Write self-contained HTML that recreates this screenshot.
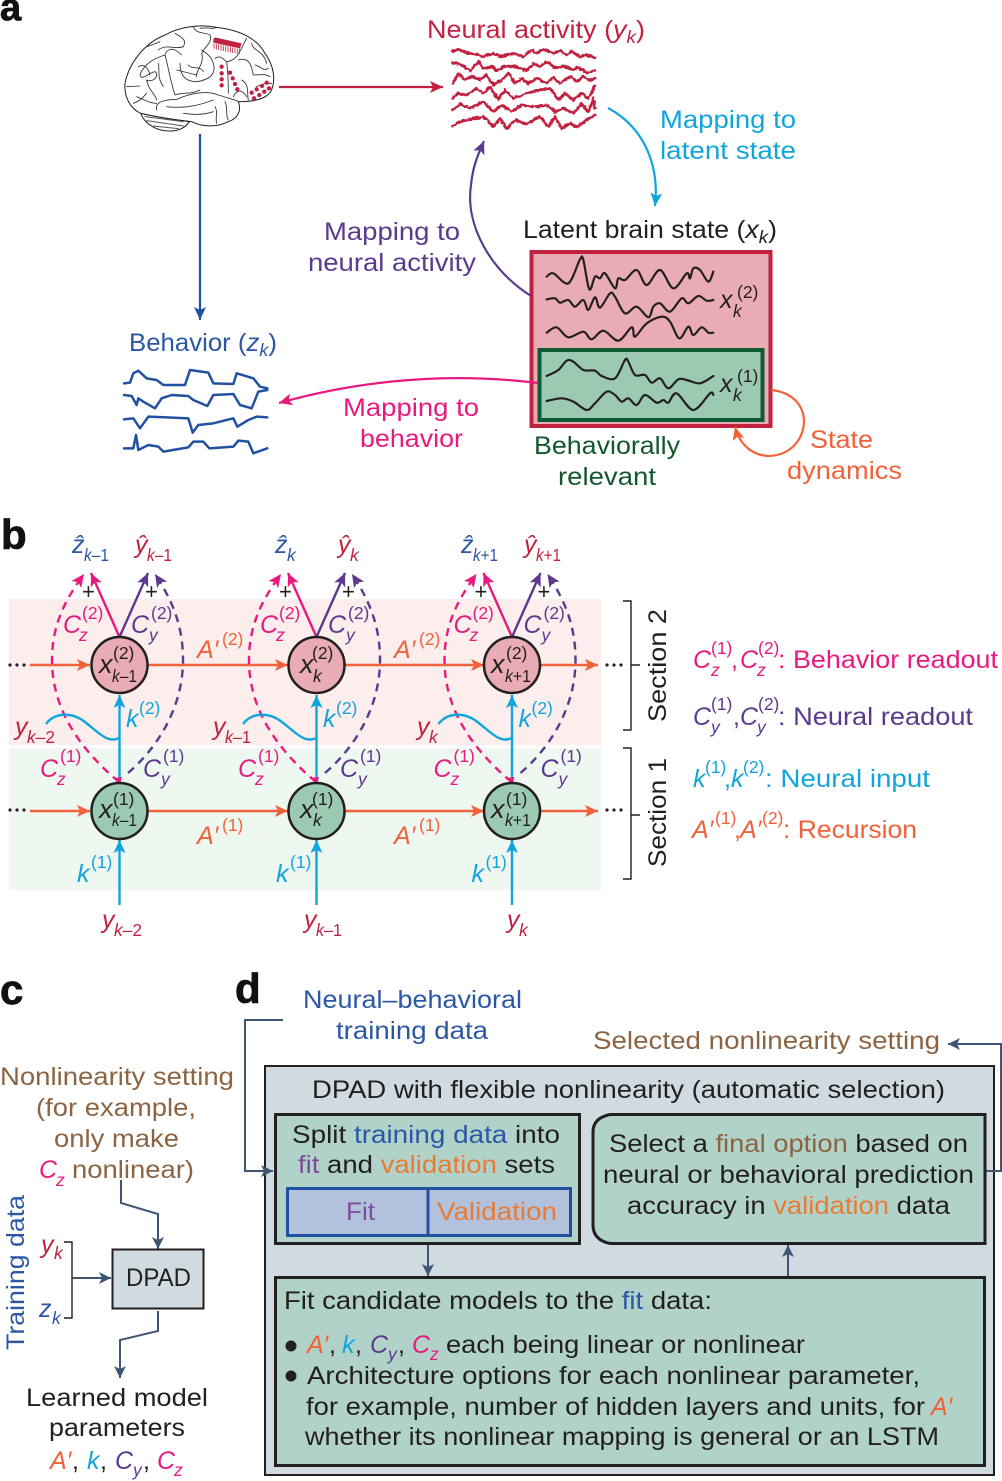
<!DOCTYPE html>
<html><head><meta charset="utf-8"><style>
html,body{margin:0;padding:0;background:#fff}
svg{display:block}
text{font-family:"Liberation Sans",sans-serif;font-size:25px;fill:#231f20}
.i{font-style:italic}
.s{font-size:17.5px}
.si{font-size:17.5px;font-style:italic}
.sr{font-style:normal}
.lab{font-weight:bold;font-size:42px;fill:#111;stroke:#111;stroke-width:.8px}
.red{fill:#c0223f}.blue{fill:#2b57a5}.cy{fill:#12a5dc}.pu{fill:#5b3a8e}.pk{fill:#e8197f}.or{fill:#f1623a}.gr{fill:#13572f}.br{fill:#8c6443}.vo{fill:#e97b35}.fp{fill:#7f4d9e}
.l{fill:none;stroke-linejoin:round;stroke-linecap:round}
.pl{font-size:22px}
</style></head><body>
<svg xmlns="http://www.w3.org/2000/svg" width="1002" height="1481" viewBox="0 0 1002 1481">
<defs>
<filter id="rough" x="-5%" y="-10%" width="110%" height="120%"><feTurbulence type="fractalNoise" baseFrequency="0.09" numOctaves="2" seed="4"/><feDisplacementMap in="SourceGraphic" scale="10" xChannelSelector="R" yChannelSelector="G"/></filter>
<marker id="mr" markerUnits="userSpaceOnUse" markerWidth="16" markerHeight="14" refX="13" refY="6" orient="auto" overflow="visible"><path d="M0 0L13 6L0 12L3 6z" fill="#c0223f"/></marker>
<marker id="mb" markerUnits="userSpaceOnUse" markerWidth="16" markerHeight="14" refX="13" refY="6" orient="auto" overflow="visible"><path d="M0 0L13 6L0 12L3 6z" fill="#2151a0"/></marker>
<marker id="mc" markerUnits="userSpaceOnUse" markerWidth="16" markerHeight="14" refX="13" refY="6" orient="auto" overflow="visible"><path d="M0 0L13 6L0 12L3 6z" fill="#12a5dc"/></marker>
<marker id="mp" markerUnits="userSpaceOnUse" markerWidth="16" markerHeight="14" refX="13" refY="6" orient="auto" overflow="visible"><path d="M0 0L13 6L0 12L3 6z" fill="#5b3a8e"/></marker>
<marker id="mk" markerUnits="userSpaceOnUse" markerWidth="16" markerHeight="14" refX="13" refY="6" orient="auto" overflow="visible"><path d="M0 0L13 6L0 12L3 6z" fill="#e8197f"/></marker>
<marker id="mo" markerUnits="userSpaceOnUse" markerWidth="16" markerHeight="14" refX="13" refY="6" orient="auto" overflow="visible"><path d="M0 0L13 6L0 12L3 6z" fill="#f1623a"/></marker>
<marker id="ms" markerUnits="userSpaceOnUse" markerWidth="16" markerHeight="14" refX="12" refY="6" orient="auto" overflow="visible"><path d="M0 0L12 6L0 12L3 6z" fill="#3f5673"/></marker>
</defs>

<!-- panel a -->
<text class="lab" x="0" y="20" style="font-size:38px">a</text>
<g transform="translate(100 0) scale(.33333)">
<path d="M122 340C90 325 72 290 75 250C85 195 130 130 195 105C240 80 300 72 350 82C420 90 470 115 495 160C520 195 530 240 512 275C495 300 455 305 415 305C425 330 415 355 385 365C350 382 310 382 275 365C215 358 165 350 122 340Z" fill="#fff" stroke="#231f20" stroke-width="3"/>
<path d="M122 340C135 375 175 395 215 393C240 392 258 380 268 365C215 358 165 350 122 340Z" fill="#fff" stroke="#231f20" stroke-width="3"/>
<path class="l" stroke="#555" stroke-width="3" d="M135 350L250 365M140 362L250 378M160 378L235 386"/>
<path class="l" stroke="#333" stroke-width="2.6" d="M170 330C165 310 180 300 230 298C270 280 320 270 355 285C385 295 410 300 415 305M200 320C240 325 290 320 340 300M345 320C355 335 345 355 350 370M375 305C385 325 375 345 385 360
M240 190C240 225 255 245 290 245C325 240 350 225 340 190C335 170 320 160 305 150M245 165C215 135 200 150 195 165C205 200 210 240 225 285M195 165C160 175 130 195 120 225C125 245 150 215 165 215C180 225 160 250 140 240C145 270 165 280 170 300M80 260L120 258M100 310C120 305 130 290 140 280
M280 80C290 105 315 95 330 105C340 125 310 145 305 160C315 190 285 215 290 230M350 82C330 90 340 80 300 85M225 100C250 115 260 120 250 140C225 150 200 130 175 150M440 115C420 150 415 180 380 185C385 225 385 250 385 280M415 180C450 170 455 200 460 225C480 225 495 220 510 230M455 130C460 155 490 150 500 190M425 240C450 255 440 280 445 300M230 210L290 225M140 140C170 130 170 130 180 125
M115 200C135 190 145 205 150 225M175 190C180 215 170 230 190 260M265 195C275 210 300 195 310 215M225 285C250 275 270 285 300 270M110 290C135 300 150 310 170 310M345 175C360 165 370 175 378 185M400 290C410 270 425 265 440 290M470 260C490 250 500 250 515 250M465 195C485 200 490 215 505 205M250 340C280 345 310 345 340 335"/>
<g fill="#c0223f"><path d="M340 118L345 112L425 130L420 145L340 128Z"/>
<path stroke="#c0223f" stroke-width="2.5" fill="none" d="M342 130V146M349 132V148M356 133V150M363 134V152M370 136V153M377 137V155M384 139V156M391 140V158M398 142V159M405 143V160M412 145V161M418 146V162"/>
<circle cx="365" cy="200" r="6.5"/><circle cx="365" cy="220" r="6.5"/><circle cx="365" cy="238" r="6.5"/><circle cx="365" cy="256" r="6.5"/>
<circle cx="390" cy="218" r="6.5"/><circle cx="398" cy="235" r="6.5"/><circle cx="405" cy="252" r="6.5"/><circle cx="412" cy="268" r="6.5"/>
<circle cx="455" cy="278" r="6.5"/><circle cx="470" cy="268" r="6.5"/><circle cx="486" cy="258" r="6.5"/><circle cx="500" cy="248" r="6.5"/><circle cx="462" cy="295" r="6.5"/><circle cx="478" cy="285" r="6.5"/><circle cx="493" cy="275" r="6.5"/><circle cx="507" cy="265" r="6.5"/></g>
<g class="l" stroke="#c0223f" stroke-width="8.5" filter="url(#rough)">
<polyline points="1058,155 1075,148 1100,158 1130,163 1150,170 1180,160 1200,170 1240,160 1270,170 1295,150 1310,160 1330,148 1360,160 1380,152 1400,165 1415,155 1440,170 1460,165 1485,172"/>
<polyline points="1058,188 1080,192 1110,212 1135,185 1150,205 1175,200 1190,212 1215,198 1250,200 1280,212 1300,190 1320,200 1340,186 1370,205 1390,198 1420,210 1435,202 1460,218 1485,212"/>
<polyline points="1058,250 1075,222 1095,238 1120,230 1140,240 1158,225 1180,255 1205,240 1225,218 1245,250 1265,235 1285,250 1310,235 1340,250 1360,232 1380,250 1410,230 1430,245 1450,230 1470,242 1485,235"/>
<polyline points="1058,295 1075,280 1100,285 1130,265 1150,280 1170,262 1195,298 1215,270 1240,295 1280,280 1320,270 1350,265 1375,300 1395,280 1420,300 1445,280 1465,295 1485,258"/>
<polyline points="1058,330 1080,312 1110,325 1150,305 1180,335 1205,315 1235,335 1265,315 1310,320 1340,315 1365,335 1390,325 1420,340 1445,312 1465,335 1480,295 1485,325"/>
<polyline points="1058,378 1080,365 1110,358 1150,350 1180,380 1200,355 1220,385 1245,360 1280,372 1320,350 1345,380 1365,350 1385,385 1410,370 1430,382 1460,360 1485,345"/>
</g></g>
<path d="M279 87H443" stroke="#c0223f" stroke-width="2.2" fill="none" marker-end="url(#mr)"/>
<path d="M200 134V320" stroke="#2151a0" stroke-width="2.2" fill="none" marker-end="url(#mb)"/>
<text class="red" x="427" y="38" textLength="218" lengthAdjust="spacingAndGlyphs">Neural activity (<tspan class="i">y</tspan><tspan class="si" dy="5">k</tspan><tspan dy="-5">)</tspan></text>
<text class="cy" x="660" y="128" textLength="136" lengthAdjust="spacingAndGlyphs">Mapping to</text>
<text class="cy" x="660" y="159" textLength="136" lengthAdjust="spacingAndGlyphs">latent state</text>
<path d="M608 108C640 125 660 160 655 206" stroke="#12a5dc" stroke-width="2.2" fill="none" marker-end="url(#mc)"/>
<text x="523" y="238" textLength="254" lengthAdjust="spacingAndGlyphs">Latent brain state (<tspan class="i">x</tspan><tspan class="si" dy="5">k</tspan><tspan dy="-5">)</tspan></text>
<rect x="531.5" y="252" width="239" height="174" fill="#e9abb4" stroke="#c0223f" stroke-width="4"/>
<rect x="539.5" y="350" width="223" height="70" fill="#9cc9b1" stroke="#0f5a33" stroke-width="4"/>
<g transform="translate(500 210) scale(.33333)" class="l" stroke="#231f20" stroke-width="6.5">
<polyline class="sm" points="140,200 160,190 205,220 240,148 250,150 268,238 285,200 300,205 315,190 345,235 355,205 375,210 410,180 440,225 480,180 520,235 560,190 570,205 580,175 600,180 625,215 640,185"/>
<polyline class="sm" points="140,268 165,265 180,278 205,270 225,290 250,270 265,300 285,262 300,293 330,250 345,260 375,310 410,290 445,322 460,290 480,280 510,305 545,265 565,280 595,258 620,272 640,270"/>
<polyline class="sm" points="140,368 170,352 205,382 250,365 275,388 310,362 355,392 395,352 405,380 440,340 485,320 510,335 538,385 565,350 580,375 605,352 625,368 640,368"/>
<polyline class="sm" points="140,498 175,480 200,452 220,455 250,480 285,482 305,498 345,505 375,450 385,455 405,495 435,495 455,518 480,505 505,535 535,508 560,510 600,520 640,498"/>
<polyline class="sm" points="140,573 185,565 220,575 260,600 285,580 320,545 345,555 365,575 385,565 410,585 435,555 470,578 490,570 505,578 530,550 580,600 630,550 640,555"/>
</g>
<text class="i" x="720" y="308">x</text><text class="s" x="737" y="298">(2)</text><text class="si" x="733" y="317">k</text>
<text class="i" x="720" y="392">x</text><text class="s" x="737" y="382">(1)</text><text class="si" x="733" y="401">k</text>
<path d="M531 296C490 270 465 225 471 185C473 165 478 155 484 141" stroke="#5b3a8e" stroke-width="2.2" fill="none" marker-end="url(#mp)"/>
<text class="pu" x="324" y="240" textLength="136" lengthAdjust="spacingAndGlyphs">Mapping to</text>
<text class="pu" x="308" y="271" textLength="168" lengthAdjust="spacingAndGlyphs">neural activity</text>
<text class="blue" x="129" y="351" textLength="148" lengthAdjust="spacingAndGlyphs">Behavior (<tspan class="i">z</tspan><tspan class="si" dy="5">k</tspan><tspan dy="-5">)</tspan></text>
<g transform="translate(120 320) scale(.33333)" class="l" stroke="#2151a0" stroke-width="7.5">
<polyline points="12,190 30,188 40,160 55,152 80,175 110,180 130,195 195,195 210,150 265,158 280,190 340,192 350,160 400,175 420,200 442,205"/>
<polyline points="12,225 35,228 50,255 55,235 70,245 105,265 125,235 155,225 205,228 220,240 262,258 280,225 340,222 360,255 395,265 415,215 442,210"/>
<polyline points="12,298 40,295 60,325 85,290 140,292 205,295 218,338 235,315 280,310 340,295 352,320 385,300 410,290 442,292"/>
<polyline points="12,385 40,385 48,345 55,390 85,375 115,380 130,395 205,382 220,365 250,365 268,385 340,380 355,362 385,365 400,400 442,385"/>
</g>
<path d="M538 383C450 372 360 380 279 403" stroke="#e8197f" stroke-width="2.2" fill="none" marker-end="url(#mk)"/>
<text class="pk" x="343" y="416" textLength="136" lengthAdjust="spacingAndGlyphs">Mapping to</text>
<text class="pk" x="360" y="447" textLength="103" lengthAdjust="spacingAndGlyphs">behavior</text>
<text class="gr" x="534" y="454" textLength="146" lengthAdjust="spacingAndGlyphs">Behaviorally</text>
<text class="gr" x="558" y="485" textLength="98" lengthAdjust="spacingAndGlyphs">relevant</text>
<path d="M771 390C792 392 804 405 804 422C803 442 788 456 768 456C752 455 740 445 735 427" stroke="#f1623a" stroke-width="2.2" fill="none" marker-end="url(#mo)"/>
<text class="or" x="810" y="448" textLength="63" lengthAdjust="spacingAndGlyphs">State</text>
<text class="or" x="787" y="479" textLength="115" lengthAdjust="spacingAndGlyphs">dynamics</text>

<!-- panel b -->
<text class="lab" x="1" y="549">b</text>
<rect x="9" y="599" width="592" height="146" fill="#fbeeec"/>
<rect x="9" y="748" width="592" height="142" fill="#eff7f1"/>
<g stroke="#f1623a" stroke-width="2.4" fill="none">
<path d="M30 665H90" marker-end="url(#mo)"/><path d="M148 665H288" marker-end="url(#mo)"/><path d="M345 665H484" marker-end="url(#mo)"/><path d="M541 665H598" marker-end="url(#mo)"/>
<path d="M30 811H90" marker-end="url(#mo)"/><path d="M148 811H288" marker-end="url(#mo)"/><path d="M345 811H484" marker-end="url(#mo)"/><path d="M541 811H598" marker-end="url(#mo)"/>
</g>
<g fill="#231f20"><circle cx="10" cy="665" r="1.6"/><circle cx="17" cy="665" r="1.6"/><circle cx="24" cy="665" r="1.6"/><circle cx="10" cy="810" r="1.6"/><circle cx="17" cy="810" r="1.6"/><circle cx="24" cy="810" r="1.6"/>
<circle cx="607" cy="665" r="1.6"/><circle cx="614" cy="665" r="1.6"/><circle cx="621" cy="665" r="1.6"/><circle cx="607" cy="810" r="1.6"/><circle cx="614" cy="810" r="1.6"/><circle cx="621" cy="810" r="1.6"/></g>

<g>
<path d="M119 782C75 745 52 705 52 660C52 625 65 600 84 574" stroke="#e8197f" stroke-width="2.4" fill="none" stroke-dasharray="8 6" marker-end="url(#mk)"/>
<path d="M128 773C155 750 183 710 183 660C183 625 172 600 155 574" stroke="#5b3a8e" stroke-width="2.4" fill="none" stroke-dasharray="8 6" marker-end="url(#mp)"/>
<path d="M119.5 637L91 573" stroke="#e8197f" stroke-width="2.4" fill="none" marker-end="url(#mk)"/>
<path d="M119.5 637L148 573" stroke="#5b3a8e" stroke-width="2.4" fill="none" marker-end="url(#mp)"/>
<path d="M119.5 783V695" stroke="#12a5dc" stroke-width="2.4" fill="none" marker-end="url(#mc)"/>
<path d="M119.5 905V840" stroke="#12a5dc" stroke-width="2.4" fill="none" marker-end="url(#mc)"/>
<path d="M46 724C55 712 72 712 85 722C98 732 108 744 119 738" stroke="#12a5dc" stroke-width="2.4" fill="none"/>
<path d="M114 778L120 784L122 777Z" fill="#e8197f"/>
<circle cx="119.5" cy="665" r="28" fill="#e9abb4" stroke="#231f20" stroke-width="2.5"/>
<circle cx="119.5" cy="811" r="28" fill="#9cc9b1" stroke="#231f20" stroke-width="2.5"/>
</g>
<g transform="translate(197 0)">
<path d="M119 782C75 745 52 705 52 660C52 625 65 600 84 574" stroke="#e8197f" stroke-width="2.4" fill="none" stroke-dasharray="8 6" marker-end="url(#mk)"/>
<path d="M128 773C155 750 183 710 183 660C183 625 172 600 155 574" stroke="#5b3a8e" stroke-width="2.4" fill="none" stroke-dasharray="8 6" marker-end="url(#mp)"/>
<path d="M119.5 637L91 573" stroke="#e8197f" stroke-width="2.4" fill="none" marker-end="url(#mk)"/>
<path d="M119.5 637L148 573" stroke="#5b3a8e" stroke-width="2.4" fill="none" marker-end="url(#mp)"/>
<path d="M119.5 783V695" stroke="#12a5dc" stroke-width="2.4" fill="none" marker-end="url(#mc)"/>
<path d="M119.5 905V840" stroke="#12a5dc" stroke-width="2.4" fill="none" marker-end="url(#mc)"/>
<path d="M46 724C55 712 72 712 85 722C98 732 108 744 119 738" stroke="#12a5dc" stroke-width="2.4" fill="none"/>
<path d="M114 778L120 784L122 777Z" fill="#e8197f"/>
<circle cx="119.5" cy="665" r="28" fill="#e9abb4" stroke="#231f20" stroke-width="2.5"/>
<circle cx="119.5" cy="811" r="28" fill="#9cc9b1" stroke="#231f20" stroke-width="2.5"/>
</g>
<g transform="translate(392.5 0)">
<path d="M119 782C75 745 52 705 52 660C52 625 65 600 84 574" stroke="#e8197f" stroke-width="2.4" fill="none" stroke-dasharray="8 6" marker-end="url(#mk)"/>
<path d="M128 773C155 750 183 710 183 660C183 625 172 600 155 574" stroke="#5b3a8e" stroke-width="2.4" fill="none" stroke-dasharray="8 6" marker-end="url(#mp)"/>
<path d="M119.5 637L91 573" stroke="#e8197f" stroke-width="2.4" fill="none" marker-end="url(#mk)"/>
<path d="M119.5 637L148 573" stroke="#5b3a8e" stroke-width="2.4" fill="none" marker-end="url(#mp)"/>
<path d="M119.5 783V695" stroke="#12a5dc" stroke-width="2.4" fill="none" marker-end="url(#mc)"/>
<path d="M119.5 905V840" stroke="#12a5dc" stroke-width="2.4" fill="none" marker-end="url(#mc)"/>
<path d="M46 724C55 712 72 712 85 722C98 732 108 744 119 738" stroke="#12a5dc" stroke-width="2.4" fill="none"/>
<path d="M114 778L120 784L122 777Z" fill="#e8197f"/>
<circle cx="119.5" cy="665" r="28" fill="#e9abb4" stroke="#231f20" stroke-width="2.5"/>
<circle cx="119.5" cy="811" r="28" fill="#9cc9b1" stroke="#231f20" stroke-width="2.5"/>
</g>

<!-- col labels -->
<text class="blue i" x="72" y="553">ẑ</text><text class="si blue" x="84" y="561" textLength="25" lengthAdjust="spacingAndGlyphs">k<tspan class="sr">–1</tspan></text>
<text class="red i" x="135" y="553">ŷ</text><text class="si red" x="147" y="561" textLength="25" lengthAdjust="spacingAndGlyphs">k<tspan class="sr">–1</tspan></text>
<text class="blue i" x="275" y="553">ẑ</text><text class="si blue" x="287" y="561">k</text>
<text class="red i" x="338" y="553">ŷ</text><text class="si red" x="350" y="561">k</text>
<text class="blue i" x="461" y="553">ẑ</text><text class="si blue" x="473" y="561" textLength="25" lengthAdjust="spacingAndGlyphs">k<tspan class="sr">+1</tspan></text>
<text class="red i" x="524" y="553">ŷ</text><text class="si red" x="536" y="561" textLength="25" lengthAdjust="spacingAndGlyphs">k<tspan class="sr">+1</tspan></text>

<g>
<text class="pl" x="82" y="599">+</text><text class="pl" x="145" y="599">+</text>
<text class="i pk" x="63" y="633">C</text><text class="s pk" x="82" y="619">(2)</text><text class="si pk" x="79" y="641">z</text>
<text class="i pu" x="131" y="633">C</text><text class="s pu" x="151" y="619">(2)</text><text class="si pu" x="149" y="641">y</text>
<text class="i or" x="197" y="658">A′</text><text class="s or" x="222" y="645">(2)</text>
<text class="i cy" x="126" y="727">k</text><text class="s cy" x="139" y="714">(2)</text>
<text class="i pk" x="40" y="777">C</text><text class="s pk" x="60" y="762">(1)</text><text class="si pk" x="57" y="785">z</text>
<text class="i pu" x="143" y="777">C</text><text class="s pu" x="163" y="762">(1)</text><text class="si pu" x="161" y="785">y</text>
<text class="i or" x="197" y="844">A′</text><text class="s or" x="222" y="831">(1)</text>
<text class="i cy" x="77" y="882">k</text><text class="s cy" x="91" y="868">(1)</text>
</g>
<g transform="translate(197 0)">
<text class="pl" x="82" y="599">+</text><text class="pl" x="145" y="599">+</text>
<text class="i pk" x="63" y="633">C</text><text class="s pk" x="82" y="619">(2)</text><text class="si pk" x="79" y="641">z</text>
<text class="i pu" x="131" y="633">C</text><text class="s pu" x="151" y="619">(2)</text><text class="si pu" x="149" y="641">y</text>
<text class="i or" x="197" y="658">A′</text><text class="s or" x="222" y="645">(2)</text>
<text class="i cy" x="126" y="727">k</text><text class="s cy" x="139" y="714">(2)</text>
<text class="i pk" x="41" y="777">C</text><text class="s pk" x="61" y="762">(1)</text><text class="si pk" x="58" y="785">z</text>
<text class="i pu" x="143" y="777">C</text><text class="s pu" x="163" y="762">(1)</text><text class="si pu" x="161" y="785">y</text>
<text class="i or" x="197" y="844">A′</text><text class="s or" x="222" y="831">(1)</text>
<text class="i cy" x="79" y="882">k</text><text class="s cy" x="93" y="868">(1)</text>
</g>
<g transform="translate(392.5 0)">
<text class="pl" x="82" y="599">+</text><text class="pl" x="145" y="599">+</text>
<text class="i pk" x="61" y="633">C</text><text class="s pk" x="80" y="619">(2)</text><text class="si pk" x="77" y="641">z</text>
<text class="i pu" x="131" y="633">C</text><text class="s pu" x="151" y="619">(2)</text><text class="si pu" x="149" y="641">y</text>
<text class="i cy" x="126" y="727">k</text><text class="s cy" x="139" y="714">(2)</text>
<text class="i pk" x="41" y="777">C</text><text class="s pk" x="61" y="762">(1)</text><text class="si pk" x="58" y="785">z</text>
<text class="i pu" x="148" y="777">C</text><text class="s pu" x="168" y="762">(1)</text><text class="si pu" x="166" y="785">y</text>
<text class="i cy" x="79" y="882">k</text><text class="s cy" x="93" y="868">(1)</text>
</g>
<text class="i red" x="15" y="735">y</text><text class="si red" x="27" y="743" textLength="28" lengthAdjust="spacingAndGlyphs">k<tspan class="sr">–2</tspan></text>
<text class="i red" x="213" y="735">y</text><text class="si red" x="225" y="743" textLength="26" lengthAdjust="spacingAndGlyphs">k<tspan class="sr">–1</tspan></text>
<text class="i red" x="417" y="735">y</text><text class="si red" x="429" y="743">k</text>
<text class="i red" x="102" y="928">y</text><text class="si red" x="114" y="936" textLength="28" lengthAdjust="spacingAndGlyphs">k<tspan class="sr">–2</tspan></text>
<text class="i red" x="304" y="928">y</text><text class="si red" x="316" y="936" textLength="26" lengthAdjust="spacingAndGlyphs">k<tspan class="sr">–1</tspan></text>
<text class="i red" x="507" y="928">y</text><text class="si red" x="519" y="936">k</text>

<text class="i" x="99" y="673" style="font-size:27px">x</text><text class="s" x="113" y="659">(2)</text><text class="si" x="112" y="682" textLength="25" lengthAdjust="spacingAndGlyphs">k<tspan class="sr">–1</tspan></text>
<text class="i" x="300" y="673" style="font-size:27px">x</text><text class="s" x="312" y="659">(2)</text><text class="si" x="313" y="682">k</text>
<text class="i" x="491" y="673" style="font-size:27px">x</text><text class="s" x="506" y="659">(2)</text><text class="si" x="505" y="682" textLength="26" lengthAdjust="spacingAndGlyphs">k<tspan class="sr">+1</tspan></text>
<text class="i" x="99" y="818" style="font-size:27px">x</text><text class="s" x="113" y="805">(1)</text><text class="si" x="112" y="826" textLength="25" lengthAdjust="spacingAndGlyphs">k<tspan class="sr">–1</tspan></text>
<text class="i" x="300" y="818" style="font-size:27px">x</text><text class="s" x="312" y="805">(1)</text><text class="si" x="313" y="826">k</text>
<text class="i" x="491" y="818" style="font-size:27px">x</text><text class="s" x="506" y="805">(1)</text><text class="si" x="505" y="826" textLength="26" lengthAdjust="spacingAndGlyphs">k<tspan class="sr">+1</tspan></text>

<path d="M623 601H631V730H623M631 665H640M623 748H631V879H623M631 815H640" stroke="#231f20" stroke-width="1.4" fill="none"/>
<text transform="translate(666 722) rotate(-90)" textLength="113" lengthAdjust="spacingAndGlyphs">Section 2</text>
<text transform="translate(666 867) rotate(-90)" textLength="109" lengthAdjust="spacingAndGlyphs">Section 1</text>

<!-- legend -->
<text class="i pk" x="693" y="668">C</text><text class="s pk" x="711" y="654">(1)</text><text class="si pk" x="711" y="676">z</text><text class="pk" x="731" y="668">,</text>
<text class="i pk" x="740" y="668">C</text><text class="s pk" x="758" y="654">(2)</text><text class="si pk" x="757" y="676">z</text>
<text class="pk" x="778" y="668" textLength="220" lengthAdjust="spacingAndGlyphs">: Behavior readout</text>
<text class="i pu" x="693" y="725">C</text><text class="s pu" x="711" y="710">(1)</text><text class="si pu" x="711" y="733">y</text><text class="pu" x="733" y="725">,</text>
<text class="i pu" x="740" y="725">C</text><text class="s pu" x="758" y="710">(2)</text><text class="si pu" x="757" y="733">y</text>
<text class="pu" x="778" y="725" textLength="195" lengthAdjust="spacingAndGlyphs">: Neural readout</text>
<text class="i cy" x="693" y="787">k</text><text class="s cy" x="705" y="773">(1)</text><text class="cy" x="724" y="787">,</text>
<text class="i cy" x="731" y="787">k</text><text class="s cy" x="743" y="773">(2)</text>
<text class="cy" x="765" y="787" textLength="165" lengthAdjust="spacingAndGlyphs">: Neural input</text>
<text class="i or" x="692" y="838">A′</text><text class="s or" x="715" y="824">(1)</text><text class="or" x="734" y="838">,</text>
<text class="i or" x="740" y="838">A′</text><text class="s or" x="762" y="824">(2)</text>
<text class="or" x="783" y="838" textLength="134" lengthAdjust="spacingAndGlyphs">: Recursion</text>

<!-- panel c -->
<text class="lab" x="0" y="1004">c</text>
<text class="br" x="0" y="1085" textLength="234" lengthAdjust="spacingAndGlyphs">Nonlinearity setting</text>
<text class="br" x="36" y="1116" textLength="160" lengthAdjust="spacingAndGlyphs">(for example,</text>
<text class="br" x="54" y="1147" textLength="125" lengthAdjust="spacingAndGlyphs">only make</text>
<text class="i pk" x="39" y="1178">C</text><text class="si pk" x="56" y="1186">z</text><text class="br" x="72" y="1178" textLength="122" lengthAdjust="spacingAndGlyphs">nonlinear)</text>
<path d="M121 1180V1203L158 1214V1249" stroke="#3f5673" stroke-width="2" fill="none" marker-end="url(#ms)"/>
<rect x="112.500" y="1249.500" width="91" height="59" fill="#cfdbe0" stroke="#231f20" stroke-width="2"/>
<text x="126" y="1286" textLength="65" lengthAdjust="spacingAndGlyphs">DPAD</text>
<text class="blue" transform="translate(24 1350) rotate(-90)" textLength="155" lengthAdjust="spacingAndGlyphs">Training data</text>
<text class="i red" x="41" y="1253">y</text><text class="si red" x="54" y="1259">k</text>
<text class="i blue" x="39" y="1317">z</text><text class="si blue" x="52" y="1324">k</text>
<path d="M64 1242H72V1318H64M72 1278H80" stroke="#231f20" stroke-width="1.4" fill="none"/>
<path d="M79 1278H111" stroke="#3f5673" stroke-width="2" fill="none" marker-end="url(#ms)"/>
<path d="M158 1311V1331L120 1340V1378" stroke="#3f5673" stroke-width="2" fill="none" marker-end="url(#ms)"/>
<text x="26" y="1406" textLength="182" lengthAdjust="spacingAndGlyphs">Learned model</text>
<text x="49" y="1436" textLength="136" lengthAdjust="spacingAndGlyphs">parameters</text>
<text x="50" y="1469"><tspan class="i or">A′</tspan></text><text x="72" y="1469">,</text><text class="i cy" x="87" y="1469">k</text><text x="100" y="1469">,</text><text class="i pu" x="115" y="1469">C</text><text class="si pu" x="133" y="1476">y</text><text x="143" y="1469">,</text><text class="i pk" x="157" y="1469">C</text><text class="si pk" x="174" y="1476">z</text>

<!-- panel d -->
<text class="lab" x="235" y="1003">d</text>
<text class="blue" x="303" y="1008" textLength="219" lengthAdjust="spacingAndGlyphs">Neural–behavioral</text>
<text class="blue" x="336" y="1039" textLength="152" lengthAdjust="spacingAndGlyphs">training data</text>
<rect x="265" y="1066" width="729" height="409" fill="#cfdbe0" stroke="#231f20" stroke-width="2"/>
<path d="M283 1020H245V1171H273" stroke="#3f5673" stroke-width="2" fill="none" marker-end="url(#ms)"/>
<text class="br" x="593" y="1049" textLength="347" lengthAdjust="spacingAndGlyphs">Selected nonlinearity setting</text>
<path d="M985 1171H1001V1044H948" stroke="#3f5673" stroke-width="2" fill="none" marker-end="url(#ms)"/>
<text x="312" y="1098" textLength="633" lengthAdjust="spacingAndGlyphs">DPAD with flexible nonlinearity (automatic selection)</text>

<rect x="275.500" y="1114.500" width="304" height="129" fill="#b1d2c8" stroke="#231f20" stroke-width="3"/>
<text x="292" y="1143" textLength="268" lengthAdjust="spacingAndGlyphs">Split <tspan class="blue">training data</tspan> into</text>
<text x="298" y="1173" textLength="257" lengthAdjust="spacingAndGlyphs"><tspan class="fp">fit</tspan> and <tspan class="vo">validation</tspan> sets</text>
<rect x="287.500" y="1188.500" width="283" height="47" fill="#b2c1dc" stroke="#2151a0" stroke-width="3"/>
<path d="M428 1188V1236" stroke="#2151a0" stroke-width="3"/>
<text class="fp" x="346" y="1220" textLength="29" lengthAdjust="spacingAndGlyphs">Fit</text>
<text class="vo" x="437" y="1220" textLength="120" lengthAdjust="spacingAndGlyphs">Validation</text>
<path d="M428 1245V1276" stroke="#3f5673" stroke-width="2" fill="none" marker-end="url(#ms)"/>

<path d="M610 1114.500H985V1243.500H610Q593 1240 593 1225V1132Q593 1118 610 1114.500Z" fill="#b1d2c8" stroke="#231f20" stroke-width="3"/>
<text x="609" y="1152" textLength="359" lengthAdjust="spacingAndGlyphs">Select a <tspan class="br">final option</tspan> based on</text>
<text x="603" y="1183" textLength="371" lengthAdjust="spacingAndGlyphs">neural or behavioral prediction</text>
<text x="627" y="1214" textLength="323" lengthAdjust="spacingAndGlyphs">accuracy in <tspan class="vo">validation</tspan> data</text>
<path d="M788 1276V1245" stroke="#3f5673" stroke-width="2" fill="none" marker-end="url(#ms)"/>

<rect x="275.500" y="1277.500" width="709" height="188" fill="#b1d2c8" stroke="#231f20" stroke-width="3"/>
<text x="284" y="1309" textLength="428" lengthAdjust="spacingAndGlyphs">Fit candidate models to the <tspan class="blue">fit</tspan> data:</text>
<circle cx="291" cy="1346" r="5.500" fill="#231f20"/>
<text class="i or" x="307" y="1353">A′</text><text x="329" y="1353">,</text><text class="i cy" x="342" y="1353">k</text><text x="355" y="1353">,</text><text class="i pu" x="370" y="1353">C</text><text class="si pu" x="388" y="1360">y</text><text x="398" y="1353">,</text><text class="i pk" x="412" y="1353">C</text><text class="si pk" x="430" y="1360">z</text>
<text x="446" y="1353" textLength="359" lengthAdjust="spacingAndGlyphs">each being linear or nonlinear</text>
<circle cx="291" cy="1376" r="5.500" fill="#231f20"/>
<text x="307" y="1384" textLength="613" lengthAdjust="spacingAndGlyphs">Architecture options for each nonlinear parameter,</text>
<text x="306" y="1415" textLength="619" lengthAdjust="spacingAndGlyphs">for example, number of hidden layers and units, for</text>
<text class="i or" x="931" y="1415">A′</text>
<text x="305" y="1445" textLength="634" lengthAdjust="spacingAndGlyphs">whether its nonlinear mapping is general or an LSTM</text>
</svg>
<script>
document.querySelectorAll('polyline.sm').forEach(function(p){
  var a=p.getAttribute('points').trim().split(/\s+/).map(function(s){return s.split(',').map(Number)});
  var d='M'+a[0][0]+' '+a[0][1];
  for(var i=0;i<a.length-1;i++){
    var p0=a[Math.max(i-1,0)],p1=a[i],p2=a[i+1],p3=a[Math.min(i+2,a.length-1)];
    d+='C'+(p1[0]+(p2[0]-p0[0])/6)+' '+(p1[1]+(p2[1]-p0[1])/6)+' '+(p2[0]-(p3[0]-p1[0])/6)+' '+(p2[1]-(p3[1]-p1[1])/6)+' '+p2[0]+' '+p2[1];
  }
  var n=document.createElementNS('http://www.w3.org/2000/svg','path');
  n.setAttribute('d',d);
  p.parentNode.replaceChild(n,p);
});
</script>
</body></html>
